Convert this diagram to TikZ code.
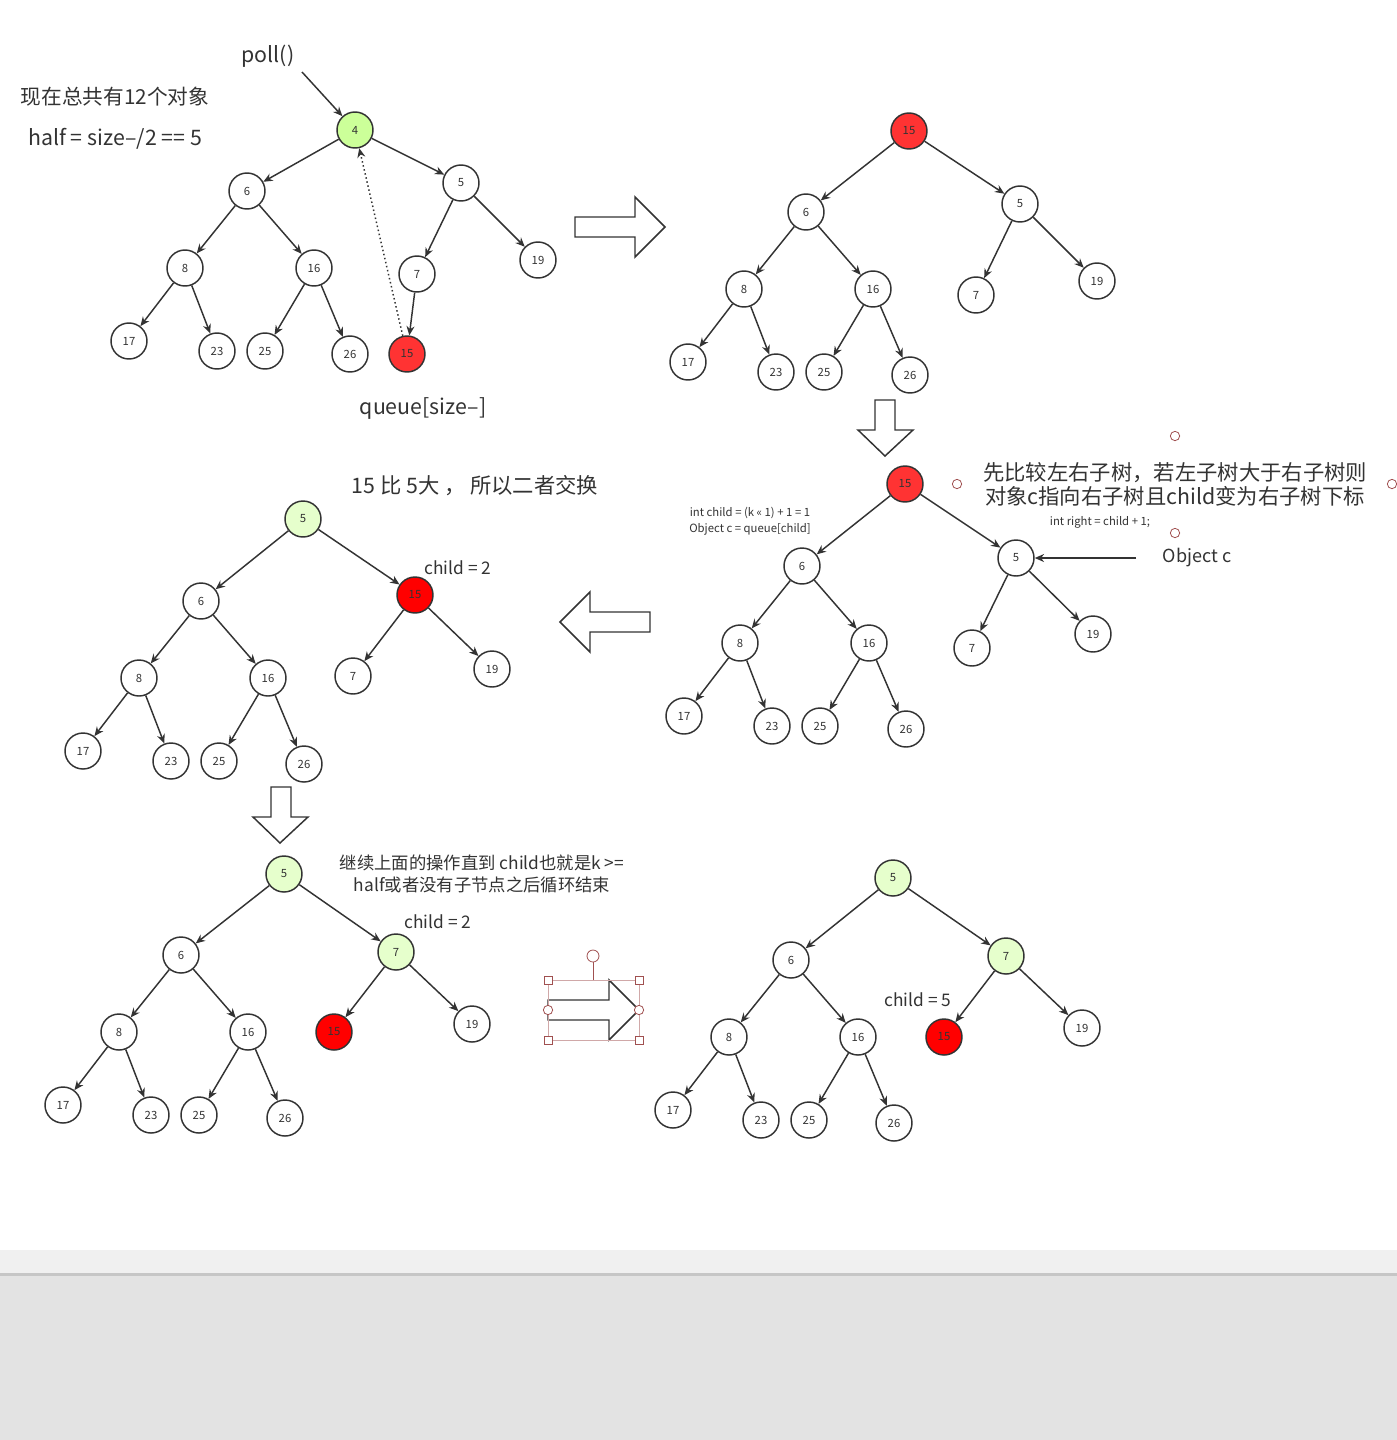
\documentclass[tikz,border=0pt]{standalone}
\usepackage{fontspec}
\setmainfont{Noto Sans CJK SC}
\usetikzlibrary{arrows.meta}
\definecolor{txt}{HTML}{333333}
\definecolor{gA}{HTML}{CCFF99}
\definecolor{gB}{HTML}{E6FFCC}
\definecolor{rA}{HTML}{FF3333}
\definecolor{rB}{HTML}{FF0000}
\definecolor{hd}{HTML}{A05050}
\tikzset{
 nd/.style={circle,draw=txt,line width=1.1pt,fill=white,minimum size=27pt,inner sep=0pt,font=\fontsize{8.5}{9}\selectfont,text=txt},
 ed/.style={draw=txt,line width=1.1pt,-{Stealth[length=7pt,width=6pt]}},
 blk/.style={draw=txt,line width=1.1pt,fill=white},
 lbl/.style={text=txt,inner sep=0pt,align=center},
 hdl/.style={circle,draw=hd,line width=0.6pt,fill=white,minimum size=7pt,inner sep=0pt},
}
\newcommand{\mytree}[1]{%
 \draw[ed] (#1a) -- (#1b); \draw[ed] (#1a) -- (#1c);
 \draw[ed] (#1b) -- (#1d); \draw[ed] (#1b) -- (#1e);
 \draw[ed] (#1d) -- (#1h); \draw[ed] (#1d) -- (#1i);
 \draw[ed] (#1e) -- (#1j); \draw[ed] (#1e) -- (#1k);
 \draw[ed] (#1c) -- (#1f); \draw[ed] (#1c) -- (#1g);}
\begin{document}
\begin{tikzpicture}[x=0.75pt,y=-0.75pt]
\useasboundingbox (0,0) rectangle (1397,1440);
\fill[white] (0,0) rectangle (1397,1250);
\fill[gray!12] (0,1250) rectangle (1397,1273);
\fill[gray!45] (0,1273) rectangle (1397,1276);
\fill[gray!22] (0,1276) rectangle (1397,1440);
% tree 1
\node[nd,fill=gA] (Aa) at (355,130) {4};
\node[nd] (Ab) at (247,191) {6};
\node[nd] (Ac) at (461,183) {5};
\node[nd] (Ad) at (185,268) {8};
\node[nd] (Ae) at (314,268) {16};
\node[nd] (Af) at (417,274) {7};
\node[nd] (Ag) at (538,260) {19};
\node[nd] (Ah) at (129,341) {17};
\node[nd] (Ai) at (217,351) {23};
\node[nd] (Aj) at (265,351) {25};
\node[nd] (Ak) at (350,354) {26};
\node[nd,fill=rA] (Al) at (407,354) {15};
\mytree{A}
\draw[ed] (Af) -- (Al);
\draw[txt,line width=1.1pt,dotted,-{Stealth[length=7pt,width=6pt]}] (Al) -- (Aa);
\node[lbl,font=\fontsize{16}{18}\selectfont] (poll) at (268,56) {poll()};
\coordinate (pst) at (302,72);
\draw[ed] (pst) -- (Aa);
\node[lbl,font=\fontsize{15.5}{18}\selectfont] (t1) at (115,97) {现在总共有12个对象};
\node[lbl,font=\fontsize{16}{18}\selectfont] (t2) at (115,139) {half = size--/2 == 5};
\node[lbl,font=\fontsize{16}{18}\selectfont] (t3) at (423,408) {queue[size--]};
% tree 2
\node[nd,fill=rA] (Ba) at (909,131) {15};
\node[nd] (Bb) at (806,212) {6};
\node[nd] (Bc) at (1020,204) {5};
\node[nd] (Bd) at (744,289) {8};
\node[nd] (Be) at (873,289) {16};
\node[nd] (Bf) at (976,295) {7};
\node[nd] (Bg) at (1097,281) {19};
\node[nd] (Bh) at (688,362) {17};
\node[nd] (Bi) at (776,372) {23};
\node[nd] (Bj) at (824,372) {25};
\node[nd] (Bk) at (910,375) {26};
\mytree{B}
% tree 3
\node[nd,fill=rA] (Ca) at (905,484) {15};
\node[nd] (Cb) at (802,566) {6};
\node[nd] (Cc) at (1016,558) {5};
\node[nd] (Cd) at (740,643) {8};
\node[nd] (Ce) at (869,643) {16};
\node[nd] (Cf) at (972,648) {7};
\node[nd] (Cg) at (1093,634) {19};
\node[nd] (Ch) at (684,716) {17};
\node[nd] (Ci) at (772,726) {23};
\node[nd] (Cj) at (820,726) {25};
\node[nd] (Ck) at (906,729) {26};
\mytree{C}
\coordinate (oc) at (1136,558);
\draw[ed] (oc) -- (Cc);
\node[lbl,font=\fontsize{13.5}{15}\selectfont] (t4) at (1197,558) {Object c};
\node[lbl,font=\fontsize{8.5}{12}\selectfont] (t5) at (750,521) {int child = (k << 1) + 1 = 1\\Object c = queue[child]};
\node[lbl,font=\fontsize{8.5}{10}\selectfont] (t6) at (1100,522) {int right = child + 1;};
\node[lbl,font=\fontsize{16}{18}\selectfont] (t7) at (1175,484) {先比较左右子树，若左子树大于右子树则\\对象c指向右子树且child变为右子树下标};
\node[hdl] (h1) at (1175,436) {};
\node[hdl] (h2) at (957,484) {};
\node[hdl] (h3) at (1392,484) {};
\node[hdl] (h4) at (1175,533) {};
% tree 4
\node[nd,fill=gB] (Da) at (303,519) {5};
\node[nd] (Db) at (201,601) {6};
\node[nd,fill=rB] (Dc) at (415,595) {15};
\node[nd] (Dd) at (139,678) {8};
\node[nd] (De) at (268,678) {16};
\node[nd] (Df) at (353,676) {7};
\node[nd] (Dg) at (492,669) {19};
\node[nd] (Dh) at (83,751) {17};
\node[nd] (Di) at (171,761) {23};
\node[nd] (Dj) at (219,761) {25};
\node[nd] (Dk) at (304,764) {26};
\mytree{D}
\node[lbl,font=\fontsize{13}{15}\selectfont] (t8) at (458,568) {child = 2};
\node[lbl,font=\fontsize{16}{18}\selectfont] (t9) at (475,486) {15 比 5大 ， 所以二者交换};
% tree 5
\node[nd,fill=gB] (Ea) at (284,874) {5};
\node[nd] (Eb) at (181,955) {6};
\node[nd,fill=gB] (Ec) at (396,952) {7};
\node[nd] (Ed) at (119,1032) {8};
\node[nd] (Ee) at (248,1032) {16};
\node[nd,fill=rB] (Ef) at (334,1032) {15};
\node[nd] (Eg) at (472,1024) {19};
\node[nd] (Eh) at (63,1105) {17};
\node[nd] (Ei) at (151,1115) {23};
\node[nd] (Ej) at (199,1115) {25};
\node[nd] (Ek) at (285,1118) {26};
\mytree{E}
\node[lbl,font=\fontsize{13}{15}\selectfont] (t10) at (438,922) {child = 2};
\node[lbl,font=\fontsize{13}{17}\selectfont] (t11) at (482,874) {继续上面的操作直到 child也就是k >=\\half或者没有子节点之后循环结束};
% tree 6
\node[nd,fill=gB] (Fa) at (893,878) {5};
\node[nd] (Fb) at (791,960) {6};
\node[nd,fill=gB] (Fc) at (1006,956) {7};
\node[nd] (Fd) at (729,1037) {8};
\node[nd] (Fe) at (858,1037) {16};
\node[nd,fill=rB] (Ff) at (944,1037) {15};
\node[nd] (Fg) at (1082,1028) {19};
\node[nd] (Fh) at (673,1110) {17};
\node[nd] (Fi) at (761,1120) {23};
\node[nd] (Fj) at (809,1120) {25};
\node[nd] (Fk) at (894,1123) {26};
\mytree{F}
\node[lbl,font=\fontsize{13}{15}\selectfont] (t12) at (918,1000) {child = 5};
% block arrows
\draw[blk] (575,217) -- (635,217) -- (635,197) -- (665,227) -- (635,257) -- (635,237) -- (575,237) -- cycle;
\draw[blk] (875,400) -- (895,400) -- (895,430) -- (913,430) -- (885,456) -- (858,430) -- (875,430) -- cycle;
\draw[blk] (650,612) -- (590,612) -- (590,592) -- (560,622) -- (590,652) -- (590,632) -- (650,632) -- cycle;
\draw[blk] (271,787) -- (291,787) -- (291,817) -- (308,817) -- (280,843) -- (253,817) -- (271,817) -- cycle;
\draw[blk] (548,1000) -- (609,1000) -- (609,980) -- (639,1010) -- (609,1040) -- (609,1020) -- (548,1020) -- cycle;
\draw[hd!50,line width=0.6pt] (548,980) rectangle (639,1040);
\draw[hd,line width=0.6pt] (593,980) -- (593,962);
\node[hdl,minimum size=9pt] (r0) at (593,956) {};
\foreach \p in {(548,980),(639,980),(548,1040),(639,1040)}
  \draw[hd,line width=0.6pt,fill=white] \p +(-4,-4) rectangle +(4,4);
\node[hdl] (r1) at (548,1010) {};
\node[hdl] (r2) at (639,1010) {};
\end{tikzpicture}
\end{document}
